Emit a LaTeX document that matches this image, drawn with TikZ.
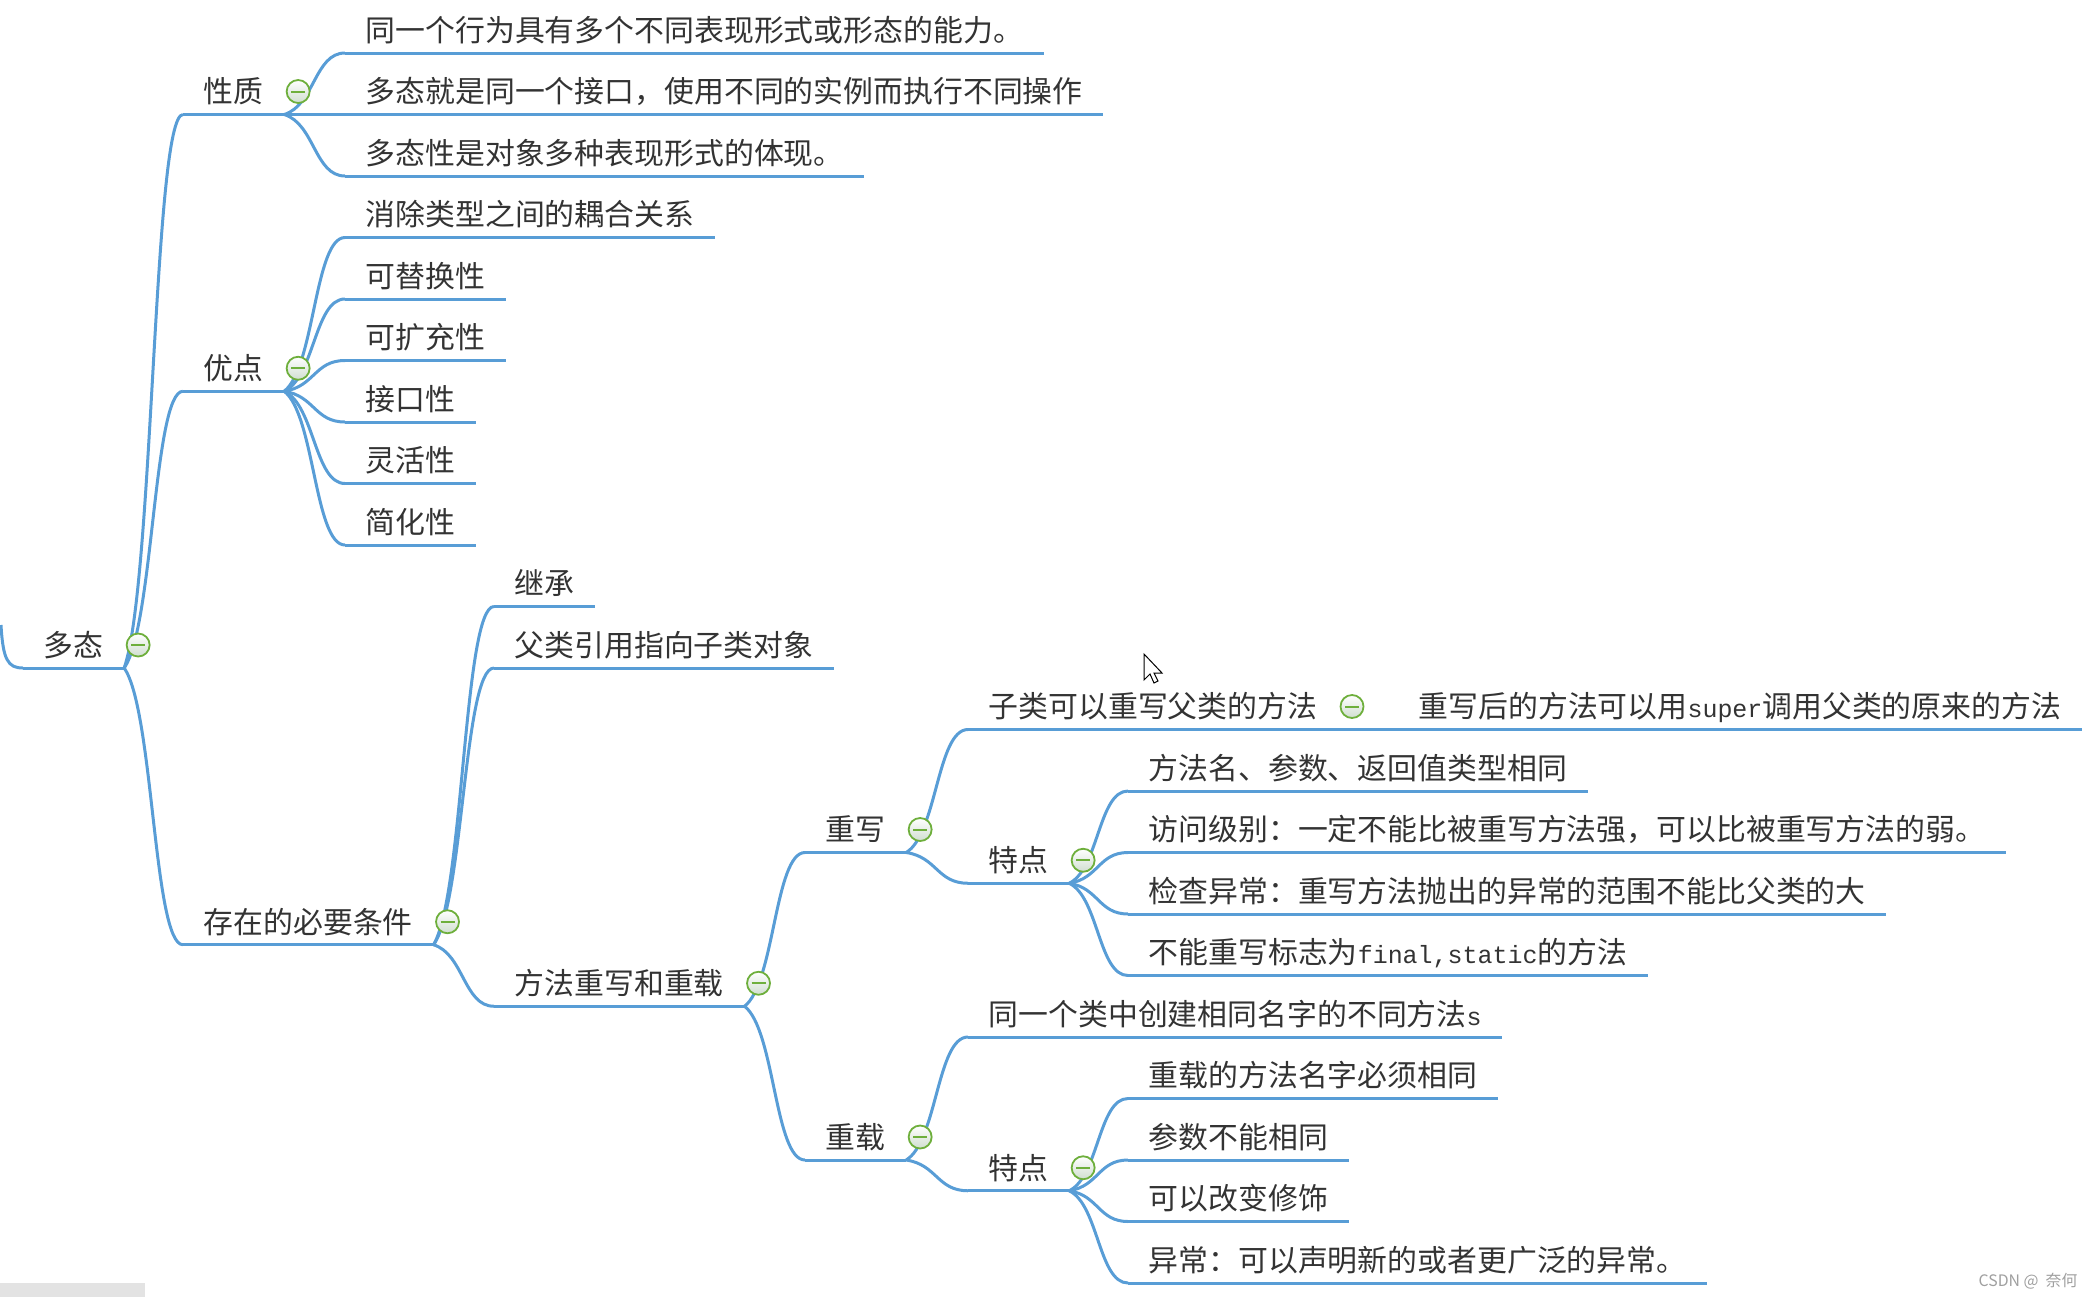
\documentclass[tikz,border=0pt]{standalone}
\usepackage{fontspec}
\setmainfont{Noto Sans CJK SC}
\newfontfamily\monofont{Liberation Mono}
\usepackage{xcolor}
\usepackage{tikz}
\usetikzlibrary{calc}
\definecolor{linkblue}{RGB}{88,157,214}
\definecolor{txtgray}{RGB}{51,51,51}
\definecolor{foldgreen}{RGB}{110,175,60}
\definecolor{foldfill}{RGB}{208,222,208}
\newcommand{\asc}[1]{{\monofont\fontsize{7.1pt}{8pt}\selectfont #1}}
\tikzset{
    topic/.style={anchor=south west, inner xsep=2mm, inner ysep=0.4mm, text height=2.3mm, text depth=0.7mm, font=\fontsize{8.5pt}{10pt}\selectfont, text=txtgray},
    branch/.style={draw=linkblue, line width=0.3mm},
    foldbtn/.style={circle, draw=foldgreen, line width=0.18mm, top color=white, bottom color=foldfill, minimum size=2.3mm, inner sep=0pt},
}
\newcommand{\conn}[2]{%
    \draw[branch] let \p1=(#1.south east), \p2=(#2.south west) in
        (\p1) .. controls ({\x1+0.5*(\x2-\x1)},{\y1+0.15*(\y2-\y1)}) and ({\x1+0.5*(\x2-\x1)},\y2) .. (\p2);}
\newcommand{\foldmark}[1]{%
    \node[foldbtn] (#1f) at ($(#1.south east)+(14,-23)$) {};
    \draw[foldgreen, line width=0.2mm] ($(#1f.center)+(-7,0)$) -- ($(#1f.center)+(7,0)$);}

\begin{document}
\begin{tikzpicture}[x=0.1mm, y=-0.1mm]
    \useasboundingbox (0,0) rectangle (2093,1297);

    \node[topic] (root) at (23,668) {多态};

    \node[topic] (xz) at (183,114.5) {性质};
    \node[topic] (yd) at (183,391.25) {优点};
    \node[topic] (tj) at (183,944.75) {存在的必要条件};

    \node[topic] (p1) at (345,53) {同一个行为具有多个不同表现形式或形态的能力。};
    \node[topic] (p2) at (345,114.5) {多态就是同一个接口，使用不同的实例而执行不同操作};
    \node[topic] (p3) at (345,176) {多态性是对象多种表现形式的体现。};

    \node[topic] (a1) at (345,237.5) {消除类型之间的耦合关系};
    \node[topic] (a2) at (345,299) {可替换性};
    \node[topic] (a3) at (345,360.5) {可扩充性};
    \node[topic] (a4) at (345,422) {接口性};
    \node[topic] (a5) at (345,483.5) {灵活性};
    \node[topic] (a6) at (345,545) {简化性};

    \node[topic] (jc) at (494,606.5) {继承};
    \node[topic] (fl) at (494,668) {父类引用指向子类对象};
    \node[topic] (ff) at (494,1006.25) {方法重写和重载};

    \node[topic] (cx) at (805,852.5) {重写};
    \node[topic] (cz) at (805,1160) {重载};

    \node[topic] (zl) at (968,729.5) {子类可以重写父类的方法};
    \node[topic] (sp) at (1398,729.5) {重写后的方法可以用\asc{super}调用父类的原来的方法};
    \node[topic] (td1) at (968,883.25) {特点};
    \node[topic] (r1) at (1128,791) {方法名、参数、返回值类型相同};
    \node[topic] (r2) at (1128,852.5) {访问级别：一定不能比被重写方法强，可以比被重写方法的弱。};
    \node[topic] (r3) at (1128,914) {检查异常：重写方法抛出的异常的范围不能比父类的大};
    \node[topic] (r4) at (1128,975.5) {不能重写标志为\asc{final,static}的方法};

    \node[topic] (ts) at (968,1037) {同一个类中创建相同名字的不同方法\asc{s}};
    \node[topic] (td2) at (968,1190.75) {特点};
    \node[topic] (o1) at (1128,1098.5) {重载的方法名字必须相同};
    \node[topic] (o2) at (1128,1160) {参数不能相同};
    \node[topic] (o3) at (1128,1221.5) {可以改变修饰};
    \node[topic] (o4) at (1128,1283) {异常：可以声明新的或者更广泛的异常。};

    \foreach \n in {root,xz,yd,tj,p1,p2,p3,a1,a2,a3,a4,a5,a6,jc,fl,ff,cx,cz,zl,sp,td1,r1,r2,r3,r4,ts,td2,o1,o2,o3,o4}
        \draw[branch] (\n.south west) -- (\n.south east);

    \coordinate (edgein) at (1,625);
    \draw[branch] (edgein) .. controls (3,660) and (8,668) .. (root.south west);

    \conn{root}{xz} \conn{root}{yd} \conn{root}{tj}
    \conn{xz}{p1} \conn{xz}{p2} \conn{xz}{p3}
    \foreach \c in {a1,a2,a3,a4,a5,a6} {\conn{yd}{\c}}
    \conn{tj}{jc} \conn{tj}{fl} \conn{tj}{ff}
    \conn{ff}{cx} \conn{ff}{cz}
    \conn{cx}{zl} \conn{cx}{td1}
    \conn{zl}{sp}
    \foreach \c in {r1,r2,r3,r4} {\conn{td1}{\c}}
    \conn{cz}{ts} \conn{cz}{td2}
    \foreach \c in {o1,o2,o3,o4} {\conn{td2}{\c}}

    \foreach \n in {root,xz,yd,tj,ff,cx,cz,zl,td1,td2} {\foldmark{\n}}

    \draw[black, line width=0.1mm, fill=white] (1144,654) -- (1144,680) -- (1150,674) -- (1154,683) -- (1158,681) -- (1154,673) -- (1162,673) -- cycle;

    \fill[gray!22] (0,1283) rectangle (145,1297);
    \node[anchor=east, inner sep=0pt, font=\fontsize{4.5pt}{5pt}\selectfont, text=gray!75] (mark) at (2078,1281) {CSDN @\ \ 奈何};
\end{tikzpicture}
\end{document}
